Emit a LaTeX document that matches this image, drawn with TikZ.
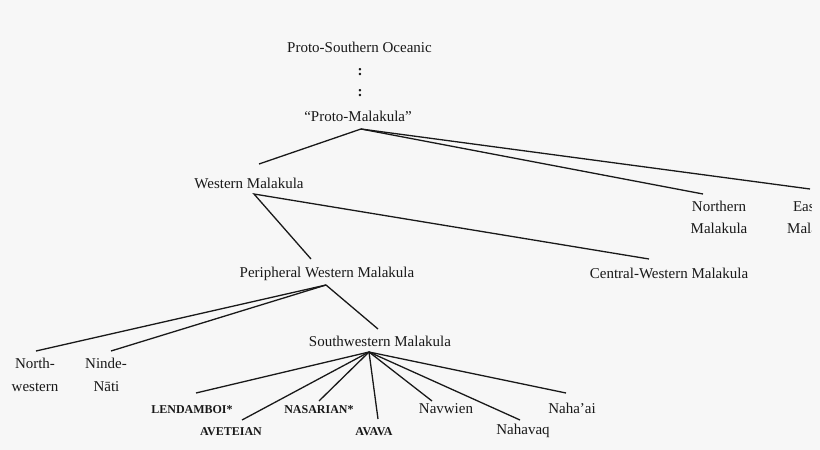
\documentclass[tikz,border=0pt]{standalone}
\usepackage{fontspec}
\setmainfont{Liberation Serif}
\begin{document}
\begin{tikzpicture}[x=1pt,y=-1pt,
  lbl/.style={anchor=base,inner sep=0pt,font=\fontsize{15}{18}\selectfont,text=black!90},
  lang/.style={anchor=base,inner sep=0pt,font=\fontsize{12}{14}\selectfont\bfseries,text=black!90},
  br/.style={line width=1.3pt,black!90}]
\fill[black!3] (0,0) rectangle (820,450);
\useasboundingbox (0,0) rectangle (820,450);
% texts
\node[lbl] (pso) at (359.5,52) {Proto-Southern Oceanic};
\node[lbl,font=\fontsize{15}{18}\selectfont\bfseries] (c1) at (360,75.5) {:};
\node[lbl,font=\fontsize{15}{18}\selectfont\bfseries] (c2) at (360,96.5) {:};
\node[lbl] (pm) at (358,121) {“Proto-Malakula”};
\node[lbl] (wm) at (249,188) {Western Malakula};
\node[lbl] (nm1) at (719,211) {Northern};
\node[lbl] (nm2) at (719,233) {Malakula};
\begin{scope}
\clip (0,0) rectangle (811,450);
\node[lbl] (em1) at (815.5,211) {Eastern};
\node[lbl] (em2) at (815.5,233) {Malakula};
\end{scope}
\node[lbl] (pwm) at (327,277) {Peripheral Western Malakula};
\node[lbl] (cwm) at (669,278) {Central-Western Malakula};
\node[lbl] (nw1) at (35,368) {North-};
\node[lbl] (nw2) at (35,391) {western};
\node[lbl] (nn1) at (106,368) {Ninde-};
\node[lbl] (nn2) at (106.5,391) {Nāti};
\node[lbl] (swm) at (380,346) {Southwestern Malakula};
\node[lang] (len) at (192,413) {LENDAMBOI*};
\node[lang] (ave) at (231,435) {AVETEIAN};
\node[lang] (nas) at (319,413) {NASARIAN*};
\node[lang] (ava) at (374,435) {AVAVA};
\node[lbl] (nav) at (446,413) {Navwien};
\node[lbl] (nhv) at (523,434) {Nahavaq};
\node[lbl] (nha) at (572,413) {Naha’ai};
% branch points and ends
\coordinate (pmA) at (361,129);
\coordinate (wmE) at (259,164);
\coordinate (nmE) at (703,194);
\coordinate (emE) at (810,189);
\coordinate (wmA) at (254,194);
\coordinate (pwE) at (311,259);
\coordinate (cwE) at (649,259);
\coordinate (pwA) at (326,285);
\coordinate (nwE) at (36,351);
\coordinate (nnE) at (111,351);
\coordinate (swE) at (378,329);
\coordinate (swA) at (369,352);
\coordinate (lenE) at (196,393);
\coordinate (aveE) at (242,420);
\coordinate (nasE) at (319,401);
\coordinate (avaE) at (378,419);
\coordinate (navE) at (432,401);
\coordinate (nhvE) at (520,420);
\coordinate (nhaE) at (566,393);
% connectors
\draw[br] (wmE) -- (pmA) -- (nmE);
\draw[br] (pmA) -- (emE);
\draw[br] (pwE) -- (wmA) -- (cwE);
\draw[br] (nwE) -- (pwA) -- (swE);
\draw[br] (pwA) -- (nnE);
\foreach \e in {lenE,aveE,nasE,avaE,navE,nhvE,nhaE} \draw[br] (swA) -- (\e);
\end{tikzpicture}
\end{document}
